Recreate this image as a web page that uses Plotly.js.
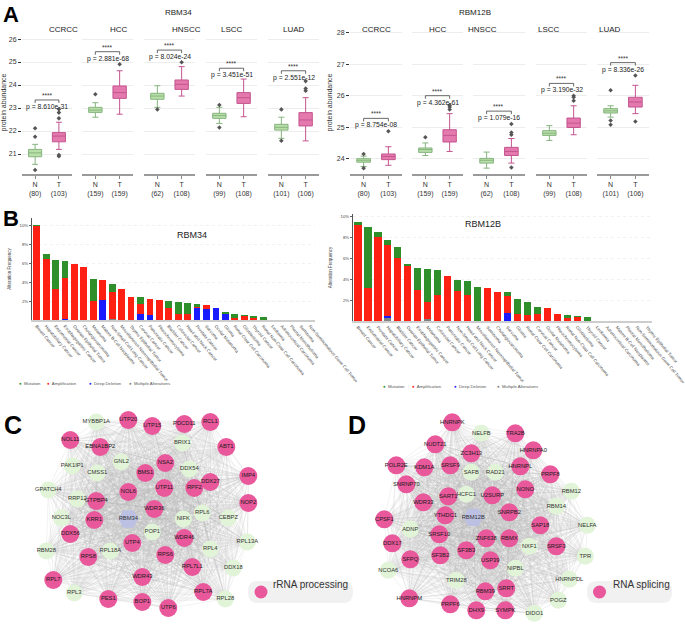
<!DOCTYPE html>
<html>
<head>
<meta charset="utf-8">
<script src="https://cdn.plot.ly/plotly-3.0.1.min.js"></script>
<style>
html,body{margin:0;padding:0;background:#fff;}
#fig{width:685px;height:625px;}
</style>
</head>
<body>
<div id="fig"></div>
<script>
// ================= Panel A: CPTAC protein abundance (normal vs tumour) =================
const cancers = ['CCRCC', 'HCC', 'HNSCC', 'LSCC', 'LUAD'];
const normalN = [80, 159, 62, 99, 101];
const tumorN = [103, 159, 108, 108, 106];

// RBM34
const rbm34NormalQ1  = [20.88, 22.81, 23.38, 22.55, 22.04];
const rbm34NormalMed = [21.05, 22.91, 23.52, 22.67, 22.16];
const rbm34NormalQ3  = [21.20, 23.03, 23.64, 22.77, 22.29];
const rbm34NormalLo  = [20.55, 22.60, 23.03, 22.33, 21.68];
const rbm34NormalHi  = [21.42, 23.23, 23.97, 23.03, 22.60];
const rbm34NormalOut = [[20.30, 21.75, 22.12], [23.60], [22.94], [22.15, 23.13], [21.58, 22.94]];
const rbm34TumorQ1   = [21.53, 23.42, 23.81, 23.20, 22.22];
const rbm34TumorMed  = [21.78, 23.67, 24.03, 23.45, 22.48];
const rbm34TumorQ3   = [21.93, 23.96, 24.22, 23.67, 22.80];
const rbm34TumorLo   = [21.20, 22.73, 23.52, 22.62, 21.57];
const rbm34TumorHi   = [22.38, 24.62, 24.80, 24.26, 23.45];
const rbm34TumorOut  = [[20.90, 20.96, 22.55, 22.80, 22.95], [24.90], [24.99], [], [23.75, 23.85, 24.17]];
const rbm34PValues   = ['8.610e-31', '2.881e-68', '8.024e-24', '3.451e-51', '2.551e-12'];
const rbm34Bracket   = [23.35, 25.45, 25.52, 24.73, 24.62];

// RBM12B
const rbm12bNormalQ1  = [23.89, 24.20, 23.86, 24.74, 25.45];
const rbm12bNormalMed = [23.95, 24.29, 23.95, 24.81, 25.52];
const rbm12bNormalQ3  = [24.00, 24.34, 24.01, 24.89, 25.59];
const rbm12bNormalLo  = [23.75, 24.10, 23.70, 24.58, 25.32];
const rbm12bNormalHi  = [24.08, 24.50, 24.21, 25.05, 25.68];
const rbm12bNormalOut = [[23.70, 24.15], [24.68], [], [], [25.08, 25.21, 26.17]];
const rbm12bTumorQ1   = [23.97, 24.53, 24.10, 24.99, 25.64];
const rbm12bTumorMed  = [24.07, 24.74, 24.23, 25.13, 25.80];
const rbm12bTumorQ3   = [24.15, 24.92, 24.36, 25.29, 25.95];
const rbm12bTumorLo   = [23.79, 24.23, 23.86, 24.76, 25.43];
const rbm12bTumorHi   = [24.38, 25.43, 24.64, 25.68, 26.33];
const rbm12bTumorOut  = [[24.87], [25.56, 25.64, 25.70], [23.72, 24.76, 24.83, 25.10], [25.84, 25.95, 26.00], [25.18, 26.64]];
const rbm12bPValues   = ['8.754e-08', '4.362e-61', '1.079e-16', '3.190e-32', '8.336e-26'];
const rbm12bBracket   = [25.28, 26.00, 25.51, 26.39, 27.05];

// ================= Panel B: cBioPortal alteration frequency (%) =================
const rbm34Types = ['Breast Cancer', 'Hepatobiliary Cancer', 'Endometrial Cancer', 'Esophagogastric Cancer',
  'Ovarian Epithelial Tumor', 'Cholangiocarcinoma', 'Melanoma', 'Mature B-Cell Neoplasms',
  'Non-Small Cell Lung Cancer', 'Miscellaneous Neuroepithelial Tumor', 'Thymic Epithelial Tumor',
  'Cervical Cancer', 'Pancreatic Cancer', 'Pheochromocytoma', 'Bladder Cancer', 'Colorectal Cancer',
  'Head and Neck Cancer', 'Prostate Cancer', 'Sarcoma', 'Ocular Melanoma', 'Glioma',
  'Renal Clear Cell Carcinoma', 'Glioblastoma', 'Thyroid Cancer', 'Renal Non-Clear Cell Carcinoma',
  'Leukemia', 'Adrenocortical Carcinoma', 'Pleural Mesothelioma', 'Seminoma', 'Non-Seminomatous Germ Cell Tumor'];
const rbm34Multiple = [0, 0, 0, 0, 0, 0, 0, 0, 0.10, 0, 0, 0, 0, 0, 0, 0, 0, 0, 0, 0, 0, 0, 0, 0, 0, 0, 0, 0, 0, 0];
const rbm34Deep     = [0, 0, 0, 0.15, 0, 0, 0, 2.10, 0, 0, 0, 0.65, 0.53, 0, 0, 0, 0, 1.23, 1.16, 1.30, 0.60, 0, 0, 0, 0, 0, 0, 0, 0, 0];
const rbm34Amp      = [9.85, 6.40, 3.25, 4.30, 5.86, 5.58, 2.00, 2.08, 2.85, 3.26, 2.46, 1.05, 1.68, 2.07, 1.23, 0.63, 0.60, 0.17, 0.42, 0, 0, 0.25, 0.40, 0.18, 0, 0, 0, 0, 0, 0];
const rbm34Mut      = [0.20, 0.60, 3.05, 1.80, 0, 0, 2.30, 0, 0.80, 0, 0, 0.74, 0, 0, 0.77, 1.23, 1.15, 0.25, 0, 0, 0.20, 0.38, 0.12, 0.24, 0.35, 0, 0, 0, 0, 0];

const rbm12bTypes = ['Breast Cancer', 'Endometrial Cancer', 'Prostate Cancer', 'Hepatobiliary Cancer',
  'Bladder Cancer', 'Ovarian Epithelial Tumor', 'Esophagogastric Cancer', 'Melanoma', 'Colorectal Cancer',
  'Pancreatic Cancer', 'Non-Small Cell Lung Cancer', 'Head and Neck Cancer', 'Miscellaneous Neuroepithelial Tumor',
  'Seminoma', 'Cholangiocarcinoma', 'Sarcoma', 'Glioma', 'Renal Clear Cell Carcinoma', 'Cervical Cancer',
  'Ocular Melanoma', 'Pheochromocytoma', 'Renal Non-Clear Cell Carcinoma', 'Glioblastoma', 'Thyroid Cancer',
  'Leukemia', 'Adrenocortical Carcinoma', 'Mature B-Cell Neoplasms', 'Pleural Mesothelioma',
  'Non-Seminomatous Germ Cell Tumor', 'Thymic Epithelial Tumor'];
const rbm12bMultiple = [0, 0, 0, 0.25, 0, 0, 0, 0.20, 0, 0, 0, 0, 0, 0, 0, 0, 0, 0, 0, 0, 0, 0, 0, 0, 0, 0, 0, 0, 0, 0];
const rbm12bDeep     = [0, 0, 0, 0.27, 0, 0, 0, 0, 0, 0, 0, 0, 0, 0, 0, 0.76, 0, 0, 0, 0, 0, 0, 0, 0, 0, 0, 0, 0, 0, 0];
const rbm12bAmp      = [9.25, 3.20, 8.10, 6.75, 6.00, 5.30, 3.00, 1.65, 2.50, 4.36, 2.83, 2.45, 0, 3.15, 2.77, 1.60, 0.70, 0.54, 0.70, 1.24, 0.70, 0.29, 0.35, 0, 0, 0, 0, 0, 0, 0];
const rbm12bMut      = [0.27, 5.85, 0.40, 0.54, 1.05, 0.16, 2.13, 3.12, 2.40, 0, 1.06, 1.34, 3.22, 0, 0, 0.38, 1.40, 1.24, 0.64, 0, 0, 0.28, 0.15, 0.38, 0, 0, 0, 0, 0, 0];

// ================= Panels C/D: co-expression networks (layout coordinates, hub at origin) =================
// group: 2 = hub gene, 1 = member of the enriched term, 0 = other partner
const rbm34Genes = ['RBM34', 'MYBBP1A', 'UTP20', 'UTP15', 'PDCD11', 'RCL1', 'NOL11', 'EBNA1BP2', 'BRIX1', 'ABT1',
  'PAK1IP1', 'GNL2', 'NSA2', 'DDX54', 'CMSS1', 'BMS1', 'IMP4', 'DDX27', 'GPATCH4', 'UTP11', 'RPF2', 'NOL6',
  'RRP12', 'GTPBP4', 'NOP2', 'WDR36', 'RPL6', 'NOC3L', 'KRR1', 'NIFK', 'CEBPZ', 'POP1', 'DDX56', 'WDR46',
  'RPL13A', 'UTP4', 'RPL4', 'RBM28', 'RPL18A', 'RPS8', 'RPS6', 'RPL7L1', 'DDX18', 'RPL7', 'WDR43', 'RPL3',
  'RPL7A', 'RPL28', 'PES1', 'BOP1', 'UTP6'];
const rbm34NodeX = [0, -32, 0, 24, 56, 82, -58, -28, 54, 98, -56, -7, 37, 61, -31, 17, 120, 82, -80, 36, 66, 0,
  -51, -32, 120, 26, 74, -67, -34, 55, 100, 24, -58, 56, 119, 4, 82, -82, -18, -40, 37, 64, 105, -75, 14, -54,
  75, 97, -20, 14, 40];
const rbm34NodeY = [0, 97, 99, 93, 95, 97, 79, 72, 76, 72, 53, 57, 56, 50, 46, 46, 43, 37, 29, 31, 31, 27,
  20, 18, 16, 10, 6, 1, -1, 0, 1, -13, -15, -19, -23, -24, -30, -32, -32, -38, -36, -48, -49, -61, -58, -74,
  -73, -80, -80, -83, -89];
const rbm34Group = [2, 0, 1, 1, 1, 1, 1, 1, 0, 1, 0, 0, 1, 0, 0, 1, 1, 1, 0, 1, 1, 1, 0, 1, 1, 1, 0, 0, 1, 0,
  0, 0, 1, 1, 0, 1, 0, 0, 0, 1, 1, 1, 0, 1, 1, 0, 1, 0, 1, 1, 1];
const rbm34Term = 'rRNA processing';

const rbm12bGenes = ['RBM12B', 'HNRNPK', 'NELFB', 'TRA2B', 'NUDT21', 'ZC3H13', 'HNRNPA0', 'POLR2E', 'KDM1A',
  'SRSF9', 'HNRNPL', 'SAFB', 'RAD21', 'PRPF8', 'SNRNP70', 'NONO', 'RBM12', 'HCFC1', 'SART1', 'U2SURP', 'WDR33',
  'RBM14', 'YTHDC1', 'SNRPB2', 'CPSF1', 'SAP18', 'NELFA', 'ADNP', 'SRSF10', 'ZNF638', 'RBMX', 'DDX17', 'NXF1',
  'SRSF3', 'SF3B3', 'SF3B2', 'TPR', 'SFPQ', 'USP39', 'NIPBL', 'NCOA6', 'HNRNPDL', 'TRIM28', 'SRRT', 'RBM39',
  'HNRNPM', 'POGZ', 'PRPF6', 'DHX9', 'SYMPK', 'DIDO1'];
const rbm12bNodeX = [0, -21, 8, 42, -38, -2, 60, -77, -49, -23, 47, -2, 22, 77, -67, 52, 98, -7, -25, 19, -50,
  83, -28, 36, -89, 67, 114, -63, -34, 13, 36, -81, 56, 83, -7, -33, 112, -63, 17, 42, -85, 96, -17, 33, 12,
  -64, 85, -23, 3, 32, 61];
const rbm12bNodeY = [0, 95, 84, 84, 73, 64, 67, 52, 50, 52, 51, 45, 45, 43, 33, 28, 26, 23, 21, 22, 15, 11, 2,
  5, -2, -8, -8, -12, -17, -21, -21, -26, -29, -29, -33, -38, -39, -42, -43, -51, -53, -62, -63, -71, -74, -81,
  -83, -87, -93, -93, -96];
const rbm12bGroup = [2, 1, 0, 1, 1, 1, 1, 1, 1, 1, 1, 0, 0, 1, 1, 1, 0, 0, 1, 1, 1, 0, 1, 1, 1, 1, 0, 0, 1, 1,
  1, 1, 0, 1, 1, 1, 0, 1, 1, 0, 0, 0, 0, 1, 1, 1, 0, 1, 1, 1, 0];
const rbm12bTerm = 'RNA splicing';

// ================= drawing =================
const W = 685, H = 625;
const px = v => v / W;          // horizontal pixel -> paper
const py = v => 1 - v / H;      // vertical pixel (from top) -> paper
const xKey = n => n === 1 ? 'xaxis' : 'xaxis' + n;
const yKey = n => n === 1 ? 'yaxis' : 'yaxis' + n;
const xRef = n => n === 1 ? 'x' : 'x' + n;
const yRef = n => n === 1 ? 'y' : 'y' + n;

const FONT = 'Liberation Sans, Arial, sans-serif';
const PINK = '#e8589b', GREEN_NODE = '#e2f4d8', HUB = '#bcc0e2';

const data = [];
const layout = {
  width: W, height: H,
  margin: {l: 0, r: 0, t: 0, b: 0},
  paper_bgcolor: '#ffffff', plot_bgcolor: 'rgba(0,0,0,0)',
  showlegend: false,
  font: {family: FONT, color: '#222'},
  barmode: 'stack', bargap: 0.28,
  annotations: [], shapes: []
};
const ann = a => layout.annotations.push(Object.assign({showarrow: false, font: {family: FONT, size: 8, color: '#222'}}, a));

// ---------- A ----------
const A_TOP = 31, A_BOTTOM = 174;

function boxGroup(g) {
  const yr = g.yRange;
  const drop = 3 * (yr[1] - yr[0]) / (A_BOTTOM - A_TOP);
  layout[yKey(g.yNum)] = {
    domain: [py(A_BOTTOM), py(A_TOP)], range: yr, anchor: xRef(g.xStart),
    tickmode: 'array', tickvals: g.yTicks, ticks: 'outside', ticklen: 3, tickcolor: '#333',
    tickfont: {size: 7, color: '#333'}, showgrid: true, gridcolor: '#ededed', zeroline: false,
    showline: false, automargin: false,
    title: {text: 'protein abundance', font: {size: 7, color: '#333'}, standoff: 3}
  };
  cancers.forEach((c, i) => {
    const n = g.xStart + i, d = g.domains[i];
    layout[xKey(n)] = {
      domain: [px(d[0]), px(d[1])], anchor: yRef(g.yNum), range: [-0.55, 1.55],
      tickmode: 'array', tickvals: [0, 1],
      ticktext: ['N<br>(' + normalN[i] + ')', 'T<br>(' + tumorN[i] + ')'],
      ticks: 'outside', ticklen: 3, tickcolor: '#888', tickfont: {size: 7, color: '#333'},
      showline: true, linecolor: '#9a9a9a', linewidth: 1.5, showgrid: false, zeroline: false, automargin: false
    };
    const xr = xRef(n), yrf = yRef(g.yNum);
    [[0, g.normal, '#b9dfa9', '#86b47f'], [1, g.tumor, '#e479ad', '#c4558f']].forEach(([pos, s, fill, line]) => {
      data.push({
        type: 'box', orientation: 'v', x: [pos],
        q1: [s.q1[i]], median: [s.med[i]], q3: [s.q3[i]], lowerfence: [s.lo[i]], upperfence: [s.hi[i]],
        width: 0.55, whiskerwidth: 0.45, fillcolor: fill, line: {color: line, width: 1},
        boxpoints: false, xaxis: xr, yaxis: yrf, hoverinfo: 'skip'
      });
      const out = s.out[i];
      if (out.length) {
        data.push({
          type: 'scatter', mode: 'markers', x: out.map(() => pos), y: out,
          marker: {symbol: 'diamond', size: 3.5, color: '#555'}, xaxis: xr, yaxis: yrf, hoverinfo: 'skip'
        });
      }
    });
    const b = g.bracket[i];
    data.push({
      type: 'scatter', mode: 'lines', x: [0, 0, 1, 1], y: [b - drop, b, b, b - drop],
      line: {color: '#444', width: 0.8}, xaxis: xr, yaxis: yrf, hoverinfo: 'skip'
    });
    ann({x: 0.5, y: b, xref: xr, yref: yrf, text: '****', yanchor: 'bottom', yshift: -1, font: {family: FONT, size: 6.5, color: '#333'}});
    ann({x: 0.5, y: b, xref: xr, yref: yrf, text: 'p = ' + g.pvals[i], yanchor: 'top', yshift: -1, font: {family: FONT, size: 6.8, color: '#222'}});
    ann({x: px((d[0] + d[1]) / 2), y: py(23), xref: 'paper', yref: 'paper', text: c, font: {family: FONT, size: 8, color: '#222'}});
  });
  ann({x: px(g.titleX), y: py(6), xref: 'paper', yref: 'paper', text: g.gene, font: {family: FONT, size: 8, color: '#222'}});
}

boxGroup({
  gene: 'RBM34', yNum: 1, xStart: 1, titleX: 163,
  domains: [[22, 72], [82, 133], [144, 195], [206, 257], [268, 319]],
  yRange: [20.13, 26.35], yTicks: [21, 22, 23, 24, 25, 26],
  normal: {q1: rbm34NormalQ1, med: rbm34NormalMed, q3: rbm34NormalQ3, lo: rbm34NormalLo, hi: rbm34NormalHi, out: rbm34NormalOut},
  tumor: {q1: rbm34TumorQ1, med: rbm34TumorMed, q3: rbm34TumorQ3, lo: rbm34TumorLo, hi: rbm34TumorHi, out: rbm34TumorOut},
  pvals: rbm34PValues, bracket: rbm34Bracket
});
boxGroup({
  gene: 'RBM12B', yNum: 2, xStart: 6, titleX: 493,
  domains: [[350, 402], [412, 463], [473, 525], [536, 587], [597, 649]],
  yRange: [23.514, 28.054], yTicks: [24, 25, 26, 27, 28],
  normal: {q1: rbm12bNormalQ1, med: rbm12bNormalMed, q3: rbm12bNormalQ3, lo: rbm12bNormalLo, hi: rbm12bNormalHi, out: rbm12bNormalOut},
  tumor: {q1: rbm12bTumorQ1, med: rbm12bTumorMed, q3: rbm12bTumorQ3, lo: rbm12bTumorLo, hi: rbm12bTumorHi, out: rbm12bTumorOut},
  pvals: rbm12bPValues, bracket: rbm12bBracket
});

// ---------- B ----------
const ALT_COLORS = {mut: '#2f8f2a', amp: '#ff2014', deep: '#1a1aff', multi: '#808080'};

function alterationPanel(p) {
  layout[xKey(p.x)] = {
    domain: [px(p.dom[0]), px(p.dom[1])], anchor: yRef(p.y), type: 'category',
    categoryorder: 'array', categoryarray: p.types, tickangle: 50,
    tickfont: {size: 4.4, color: '#444'}, showline: true, linecolor: '#cdcdcd', linewidth: 2,
    ticks: '', showgrid: false, zeroline: false, automargin: false
  };
  layout[yKey(p.y)] = {
    domain: [py(p.bottom), py(p.top)], range: p.range, anchor: xRef(p.x),
    tickmode: 'array', tickvals: [2, 4, 6, 8, 10], ticktext: ['2%', '4%', '6%', '8%', '10%'],
    ticks: 'outside', ticklen: 2, tickcolor: '#666', tickfont: {size: 4.3, color: '#444'},
    showline: true, linecolor: '#555', linewidth: 1, showgrid: true, gridcolor: '#f1f1f1', griddash: 'dot',
    zeroline: false, automargin: false,
    title: {text: 'Alteration Frequency', font: {size: 4.5, color: '#444'}, standoff: 7}
  };
  [['Multiple Alterations', p.multi, ALT_COLORS.multi], ['Deep Deletion', p.deep, ALT_COLORS.deep],
   ['Amplification', p.amp, ALT_COLORS.amp], ['Mutation', p.mut, ALT_COLORS.mut]].forEach(([name, vals, col]) => {
    data.push({
      type: 'bar', name: name, x: p.types, y: vals, marker: {color: col, line: {width: 0}},
      xaxis: xRef(p.x), yaxis: yRef(p.y), hoverinfo: 'skip'
    });
  });
  ann({x: px(p.titleX), y: py(p.titleY), xref: 'paper', yref: 'paper', text: p.gene, font: {family: FONT, size: 9, color: '#222'}});
  const items = [['Mutation', ALT_COLORS.mut], ['Amplification', ALT_COLORS.amp], ['Deep Deletion', ALT_COLORS.deep], ['Multiple Alterations', ALT_COLORS.multi]];
  items.forEach(([name, col], k) => {
    ann({x: px(p.legendX[k]), y: py(p.legendY), xref: 'paper', yref: 'paper', xanchor: 'left',
      text: '<span style="color:' + col + '">●</span>  ' + name, font: {family: FONT, size: 4.3, color: '#555'}});
  });
}

alterationPanel({
  gene: 'RBM34', x: 11, y: 3, dom: [32, 315], top: 218, bottom: 320, range: [0, 10.74],
  types: rbm34Types, multi: rbm34Multiple, deep: rbm34Deep, amp: rbm34Amp, mut: rbm34Mut,
  titleX: 175, titleY: 235, legendX: [17, 45, 87, 127], legendY: 384
});
alterationPanel({
  gene: 'RBM12B', x: 12, y: 4, dom: [353, 652], top: 214, bottom: 321, range: [0, 10.26],
  types: rbm12bTypes, multi: rbm12bMultiple, deep: rbm12bDeep, amp: rbm12bAmp, mut: rbm12bMut,
  titleX: 503, titleY: 224, legendX: [381, 410, 452, 495], legendY: 386
});

// ---------- C / D ----------
function roundRect(x0, y0, x1, y1, r) {
  const X = px, Y = py, rx = r / W, ry = r / H;
  const a = X(x0), b = X(x1), t = Y(y0), u = Y(y1);
  return `M ${a + rx} ${t} L ${b - rx} ${t} Q ${b} ${t} ${b} ${t - ry} L ${b} ${u + ry} Q ${b} ${u} ${b - rx} ${u} ` +
         `L ${a + rx} ${u} Q ${a} ${u} ${a} ${u + ry} L ${a} ${t - ry} Q ${a} ${t} ${a + rx} ${t} Z`;
}

function network(nw) {
  layout[xKey(nw.x)] = {domain: [px(nw.dom[0]), px(nw.dom[1])], range: nw.xRange, visible: false, anchor: yRef(nw.y), fixedrange: true};
  layout[yKey(nw.y)] = {domain: [py(625), py(395)], range: nw.yRange, visible: false, anchor: xRef(nw.x), fixedrange: true};
  const xs = nw.xs, ys = nw.ys, ex = [], ey = [];
  for (let i = 0; i < xs.length; i++) {
    for (let j = i + 1; j < xs.length; j++) {
      ex.push(xs[i], xs[j], null);
      ey.push(ys[i], ys[j], null);
    }
  }
  data.push({type: 'scatter', mode: 'lines', x: ex, y: ey, line: {color: 'rgba(185,185,185,0.55)', width: 0.35},
    xaxis: xRef(nw.x), yaxis: yRef(nw.y), hoverinfo: 'skip'});
  const styles = {
    0: {color: GREEN_NODE, size: 17, symbol: 'circle'},
    1: {color: PINK, size: 18, symbol: 'circle'},
    2: {color: HUB, size: 20, symbol: 'hexagon2'}
  };
  [0, 1, 2].forEach(gr => {
    const idx = nw.genes.map((g, k) => k).filter(k => nw.group[k] === gr);
    data.push({
      type: 'scatter', mode: 'markers+text',
      x: idx.map(k => xs[k]), y: idx.map(k => ys[k]), text: idx.map(k => nw.genes[k]),
      textposition: 'middle center', textfont: {family: FONT, size: 5.8, color: gr === 1 ? '#1a1a1a' : '#333'},
      marker: {color: styles[gr].color, size: styles[gr].size, symbol: styles[gr].symbol, line: {width: 0}},
      xaxis: xRef(nw.x), yaxis: yRef(nw.y), hoverinfo: 'skip', cliponaxis: false
    });
  });
  const L = nw.legend;
  layout.shapes.push({type: 'path', xref: 'paper', yref: 'paper', path: roundRect(L.x0, L.y0, L.x1, L.y1, 10),
    fillcolor: '#f1f1f1', line: {width: 0}, layer: 'above'});
  layout.shapes.push({type: 'circle', xref: 'paper', yref: 'paper', x0: px(L.cx - 6.5), x1: px(L.cx + 6.5),
    y0: py(L.cy + 6.5), y1: py(L.cy - 6.5), fillcolor: PINK, line: {width: 0}, layer: 'above'});
  ann({x: px(L.tx), y: py(L.cy), xref: 'paper', yref: 'paper', xanchor: 'left', text: nw.term,
    font: {family: FONT, size: 10, color: '#333'}});
}

network({
  x: 13, y: 5, dom: [0, 340], xRange: [-128.3, 211.7], yRange: [-106, 124],
  genes: rbm34Genes, xs: rbm34NodeX, ys: rbm34NodeY, group: rbm34Group, term: rbm34Term,
  legend: {x0: 248, y0: 581, x1: 353, y1: 603, cx: 261, cy: 592, tx: 271}
});
network({
  x: 14, y: 6, dom: [340, 685], xRange: [-133.3, 211.7], yRange: [-107.7, 122.3],
  genes: rbm12bGenes, xs: rbm12bNodeX, ys: rbm12bNodeY, group: rbm12bGroup, term: rbm12bTerm,
  legend: {x0: 587, y0: 581, x1: 672, y1: 603, cx: 599.5, cy: 592, tx: 611}
});

// ---------- panel letters ----------
[['A', 1, 0, 22], ['B', 1, 204, 22], ['C', 2, 409, 25], ['D', 346, 409, 25]].forEach(([t, x, y, s]) => {
  ann({x: px(x), y: py(y), xref: 'paper', yref: 'paper', xanchor: 'left', yanchor: 'top',
    text: '<b>' + t + '</b>', font: {family: FONT, size: s, color: '#000'}});
});

Plotly.newPlot('fig', data, layout, {staticPlot: true, displayModeBar: false});
</script>
</body>
</html>
